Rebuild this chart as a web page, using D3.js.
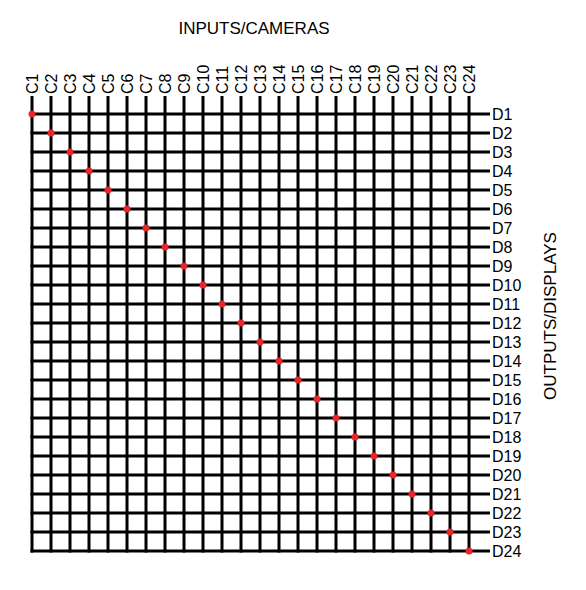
<!DOCTYPE html><html><head><script src="https://cdn.jsdelivr.net/npm/d3@7"></script>
<style>body{margin:0;background:#fff}text{font-family:"Liberation Sans",Arial,sans-serif}</style></head><body><svg width="586" height="590"></svg><script>
const inputs=d3.range(1,25).map(i=>"C"+i);
const outputs=d3.range(1,25).map(i=>"D"+i);
const links=d3.range(24).map(i=>({input:inputs[i],output:outputs[i]}));
const svg=d3.select("svg");
const x=d3.scalePoint().domain(inputs).range([32,469]);
const y=d3.scalePoint().domain(outputs).range([114,551]);
const g=svg.append("g");
g.selectAll(".v").data(inputs).join("line").attr("x1",d=>x(d)).attr("x2",d=>x(d)).attr("y1",96).attr("y2",552.5).attr("stroke","#000").attr("stroke-width",3);
g.selectAll(".h").data(outputs).join("line").attr("y1",d=>y(d)).attr("y2",d=>y(d)).attr("x1",30.5).attr("x2",490).attr("stroke","#000").attr("stroke-width",3);
g.selectAll(".cl").data(inputs).join("text").attr("transform",d=>`translate(${x(d)+6},94) rotate(-90)`).attr("font-size",16).text(d=>d);
g.selectAll(".dl").data(outputs).join("text").attr("x",492).attr("y",d=>y(d)+6).attr("font-size",16).text(d=>d);
g.selectAll("circle").data(links).join("circle").attr("cx",d=>x(d.input)).attr("cy",d=>y(d.output)).attr("r",3.5).attr("fill","#e8262b");
svg.append("text").attr("x",254).attr("y",34).attr("text-anchor","middle").attr("font-size",17).text("INPUTS/CAMERAS");
svg.append("text").attr("transform","translate(556,316) rotate(-90)").attr("text-anchor","middle").attr("font-size",17).text("OUTPUTS/DISPLAYS");
</script></body></html>
